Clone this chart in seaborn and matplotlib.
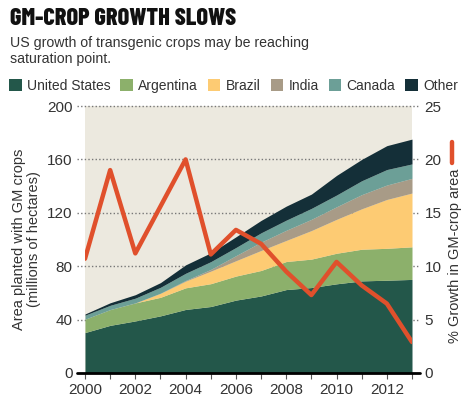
import numpy as np
import pandas as pd
import matplotlib
matplotlib.use("Agg")
import matplotlib.pyplot as plt
import seaborn as sns
from matplotlib.patches import Patch
from matplotlib.lines import Line2D

# data (millions of hectares)
years = list(range(2000, 2014))
united_states = [30.3, 35.7, 39.0, 42.8, 47.6, 49.8, 54.6, 57.7, 62.5, 64.0, 66.8, 69.0, 69.5, 70.1]
argentina = [10.0, 11.8, 13.5, 13.9, 16.2, 17.1, 18.0, 19.1, 21.0, 21.3, 22.9, 23.7, 23.9, 24.4]
brazil = [0.0, 0.0, 0.0, 3.0, 5.0, 9.4, 11.5, 15.0, 15.8, 21.4, 25.4, 30.3, 36.6, 40.3]
india = [0.0, 0.0, 0.05, 0.1, 0.5, 1.3, 3.8, 6.2, 7.6, 8.4, 9.4, 10.6, 10.8, 11.0]
canada = [3.0, 3.2, 3.5, 4.4, 5.4, 5.8, 6.1, 7.0, 7.6, 8.2, 8.8, 10.4, 11.6, 10.8]
other = [0.9, 1.9, 2.6, 3.5, 6.3, 6.6, 8.0, 9.3, 10.5, 10.7, 14.7, 16.0, 17.9, 18.6]
growth_pct = [10.7, 19.0, 11.2, 15.6, 20.0, 11.1, 13.4, 12.1, 9.5, 7.3, 10.4, 8.2, 6.5, 2.9]

series_names = ["United States", "Argentina", "Brazil", "India", "Canada", "Other"]
colors = ["#23574a", "#8cb06b", "#fdcb73", "#a89b87", "#6c9f97", "#142f38"]
red = "#e0502c"
text_col = "#333333"

sns.set_style("white")
plt.rcParams["font.family"] = ["Liberation Sans", "DejaVu Sans"]

fig = plt.figure(figsize=(4.74, 3.99), dpi=100)
ax = fig.add_axes([85 / 474, 26 / 399, 327 / 474, 267 / 399])
ax.set_facecolor("#ece9df")

ax.stackplot(years, united_states, argentina, brazil, india, canada, other,
             colors=colors, linewidth=0, zorder=2)

ax.set_xlim(2000, 2013)
ax.set_ylim(0, 200)
for y in [40, 80, 120, 160, 200]:
    ax.axhline(y, xmin=-0.025, xmax=1.025, color="#777777", lw=1,
               ls=(0, (1, 1.6)), clip_on=False, zorder=1)
ax.axhline(0, xmin=-0.025, xmax=1.025, color="black", lw=2, clip_on=False, zorder=5)

for s in ax.spines.values():
    s.set_visible(False)
ax.set_yticks([0, 40, 80, 120, 160, 200])
ax.tick_params(axis="y", length=0, pad=9, labelsize=11, labelcolor=text_col)
ax.set_xticks(years)
ax.set_xticklabels([str(y) if y % 2 == 0 else "" for y in years])
ax.tick_params(axis="x", direction="out", length=4, width=0.8, color="#555555",
               pad=3, labelsize=11, labelcolor=text_col, bottom=True)
ax.set_ylabel("Area planted with GM crops\n(millions of hectares)", fontsize=10.5,
              color=text_col, labelpad=4, linespacing=1.1)

ax2 = ax.twinx()
df = pd.DataFrame({"year": years, "growth": growth_pct})
sns.lineplot(data=df, x="year", y="growth", ax=ax2, color=red, lw=3.2, zorder=6)
ax2.set_ylim(0, 25)
ax2.set_yticks([0, 5, 10, 15, 20, 25])
for s in ax2.spines.values():
    s.set_visible(False)
ax2.tick_params(axis="y", length=0, pad=9, labelsize=11, labelcolor=text_col)
ax2.set_ylabel("% Growth in GM-crop area", fontsize=10.5, color=text_col)
ax2.yaxis.set_label_coords(1.11, 0.44)
fig.add_artist(Line2D([452 / 474, 452 / 474], [1 - 142 / 399, 1 - 163 / 399],
                      color=red, lw=3.2, solid_capstyle="round"))

fig.text(10 / 474, 1 - 8 / 399, "GM-CROP GROWTH SLOWS", fontsize=17.5, fontweight=800,
         family=["Barlow Condensed", "DejaVu Sans"], va="top", ha="left", color="#111111")
fig.text(10 / 474, 1 - 36 / 399, "US growth of transgenic crops may be reaching\nsaturation point.",
         fontsize=10.2, va="top", ha="left", color=text_col, linespacing=1.15)

handles = [Patch(facecolor=c, edgecolor="none") for c in colors]
fig.legend(handles, series_names, loc="center left", bbox_to_anchor=(9 / 474, 1 - 86 / 399),
           ncol=6, frameon=False, fontsize=10, handlelength=0.9, handleheight=0.9,
           handletextpad=0.4, columnspacing=0.7, labelcolor=text_col, borderpad=0,
           borderaxespad=0)

fig.savefig("out.png", dpi=100)
